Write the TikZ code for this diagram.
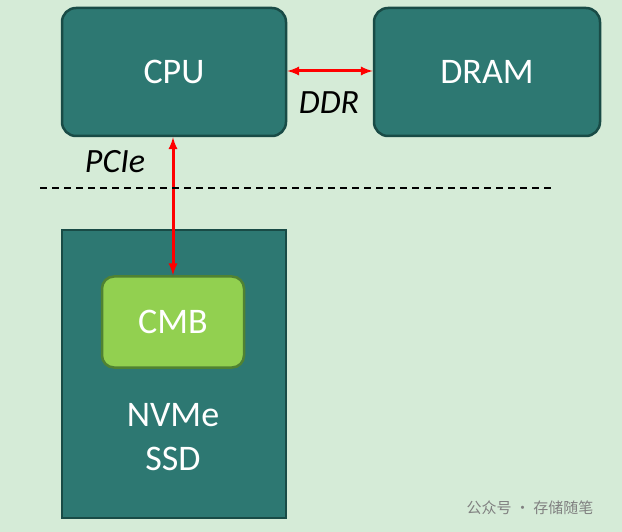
\documentclass[tikz,border=0pt]{standalone}
\usepackage{fontspec}
\setmainfont{Carlito}
\newfontfamily\cjk{Noto Sans CJK SC}
\usetikzlibrary{positioning}
\definecolor{bgGreen}{RGB}{213,235,215}
\definecolor{boxTeal}{RGB}{45,120,114}
\definecolor{boxEdge}{RGB}{25,75,70}
\definecolor{cmbGreen}{RGB}{146,208,80}
\definecolor{cmbEdge}{RGB}{80,130,50}
\tikzset{
  block/.style={draw=boxEdge, line width=2.5pt, fill=boxTeal, rounded corners=14pt, text=white, font=\fontsize{36}{42}\selectfont},
  link/.style={draw=red, line width=3pt, <->, >=latex}
}
\begin{document}
\begin{tikzpicture}[x=1pt,y=-1pt]
\useasboundingbox[fill=bgGreen] (0,0) rectangle (622,532);
\node[block, minimum width=224pt, minimum height=128pt] (cpu) at (174,72) {CPU};
\node[block, minimum width=226pt, minimum height=128pt] (dram) at (487,72) {DRAM};
\node[block, rounded corners=0pt, minimum width=224pt, minimum height=288pt] (ssd) at (174,374) {};
\node[block, fill=cmbGreen, draw=cmbEdge, rounded corners=12pt, minimum width=142pt, minimum height=91pt] (cmb) at (173,322) {CMB};
\node[text=white, font=\fontsize{36}{44}\selectfont, align=center] (nvme) at (173,437) {NVMe\\SSD};
\draw[link] (cpu.east |- 0,71) -- (dram.west |- 0,71);
\draw[link] (cpu.south -| 173,0) -- (cmb.north);
\node[font=\itshape\fontsize{34}{40}\selectfont] (ddr) at (329,103) {DDR};
\node[font=\itshape\fontsize{34}{40}\selectfont] (pcie) at (115,162) {PCIe};
\draw[line width=2pt, dash pattern=on 7pt off 5pt] (40,188) -- (555,188);
\node[text=gray, font=\cjk\fontsize{15}{18}\selectfont] (mark) at (530,508) {公众号 · 存储随笔};
\end{tikzpicture}
\end{document}
